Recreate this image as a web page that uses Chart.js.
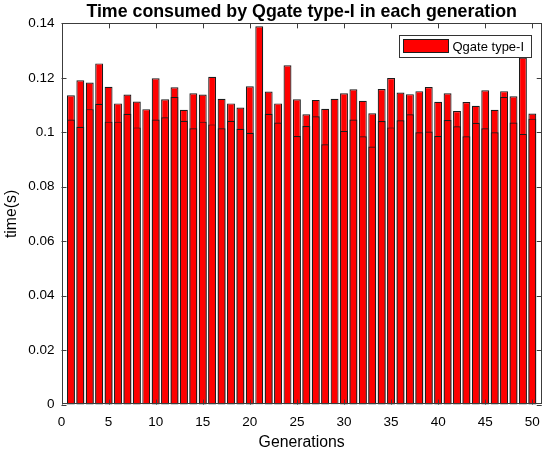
<!DOCTYPE html>
<html>
<head>
<meta charset="utf-8">
<script src="https://cdn.jsdelivr.net/npm/chart.js@4.4.1/dist/chart.umd.min.js"></script>
<style>
    html, body { margin: 0; padding: 0; background: #fff; }
    #wrap { width: 550px; height: 454px; }
</style>
</head>
<body>
<div id="wrap"><canvas id="myChart"></canvas></div>
<script>
let generations = [1, 2, 3, 4, 5, 6, 7, 8, 9, 10, 11, 12, 13, 14, 15, 16, 17, 18, 19, 20,
    21, 22, 23, 24, 25, 26, 27, 28, 29, 30, 31, 32, 33, 34, 35, 36, 37, 38, 39, 40,
    41, 42, 43, 44, 45, 46, 47, 48, 49, 50];

// full bar heights (s)
let timeUpper = [0.1136, 0.1191, 0.1183, 0.1253, 0.1167, 0.1106, 0.1139, 0.1113, 0.1085, 0.1198,
    0.1121, 0.1165, 0.1083, 0.1143, 0.1139, 0.1204, 0.1123, 0.1106, 0.1091, 0.1169,
    0.1389, 0.1150, 0.1106, 0.1246, 0.1121, 0.1066, 0.1119, 0.1086, 0.1123, 0.1143,
    0.1158, 0.1116, 0.1070, 0.1159, 0.1199, 0.1146, 0.1140, 0.1151, 0.1166, 0.1112,
    0.1143, 0.1078, 0.1111, 0.1097, 0.1154, 0.1083, 0.1151, 0.1132, 0.1274, 0.1069];

// the second (overlaid) bars, seen as the black line inside each bar; null where hidden
let timeLower = [0.1047, 0.1020, 0.1085, 0.1105, 0.1039, 0.1039, 0.1068, 0.1018, null, 0.1047,
    0.1055, 0.1130, 0.1042, 0.1015, 0.1039, 0.1029, 0.1015, 0.1042, 0.1013, 0.0998,
    null, 0.1068, 0.1036, null, 0.0986, 0.1023, 0.1059, 0.0956, null, 0.1005,
    0.1047, 0.0985, 0.0948, 0.1041, 0.1018, 0.1044, 0.1066, 0.1000, 0.1003, 0.0986,
    0.1045, 0.1022, 0.0985, 0.1035, 0.1015, 0.1000, 0.1130, 0.1036, 0.0994, 0.1050];

let xTicks = [0, 5, 10, 15, 20, 25, 30, 35, 40, 45, 50];
let yTicks = [0, 0.02, 0.04, 0.06, 0.08, 0.1, 0.12, 0.14];
let yTickLabels = ['0', '0.02', '0.04', '0.06', '0.08', '0.1', '0.12', '0.14'];

let fontFamily = '"Liberation Sans", Arial, Helvetica, sans-serif';
let axisColor = '#3c3c3c';
let barEdge = '#1c1c1c';

function toPoints(values) {
    return generations.map((g, i) => ({x: g, y: values[i]}));
}

// MATLAB style box, inward ticks on all four sides, legend inside the axes
let matlabAxes = {
    id: 'matlabAxes',
    afterDatasetsDraw(chart) {
        let ctx = chart.ctx;
        let a = chart.chartArea;
        let x = chart.scales.x;
        let y = chart.scales.y;
        ctx.save();
        ctx.strokeStyle = axisColor;
        ctx.lineWidth = 1;
        ctx.beginPath();
        xTicks.forEach((v) => {
            let px = Math.round(x.getPixelForValue(v)) + 0.5;
            ctx.moveTo(px, a.bottom); ctx.lineTo(px, a.bottom - 5);
            ctx.moveTo(px, a.top); ctx.lineTo(px, a.top + 5);
        });
        yTicks.forEach((v) => {
            let py = Math.round(y.getPixelForValue(v)) + 0.5;
            ctx.moveTo(a.left, py); ctx.lineTo(a.left + 5, py);
            ctx.moveTo(a.right, py); ctx.lineTo(a.right - 5, py);
        });
        ctx.stroke();
        ctx.strokeRect(Math.round(a.left) + 0.5, Math.round(a.top) + 0.5,
            Math.round(a.right - a.left) - 1, Math.round(a.bottom - a.top) - 1);

        // legend
        let ds = chart.data.datasets[1];
        let bw = 132, bh = 22;
        let bx = Math.round(a.right - 11 - bw) + 0.5;
        let by = Math.round(a.top + 12) + 0.5;
        ctx.fillStyle = '#fff';
        ctx.fillRect(bx, by, bw, bh);
        ctx.strokeStyle = '#333';
        ctx.strokeRect(bx, by, bw, bh);
        ctx.fillStyle = ds.backgroundColor;
        ctx.fillRect(bx + 4, by + 4, 45, 13);
        ctx.strokeStyle = barEdge;
        ctx.strokeRect(bx + 4, by + 4, 45, 13);
        ctx.fillStyle = '#000';
        ctx.font = '13px ' + fontFamily;
        ctx.textBaseline = 'middle';
        ctx.textAlign = 'left';
        ctx.fillText(ds.label, bx + 53, by + bh / 2 + 0.5);
        ctx.restore();
    }
};

let barStyle = {
    backgroundColor: '#ff0000',
    borderColor: barEdge,
    borderWidth: 1.2,
    borderSkipped: false,
    inflateAmount: 0,
    grouped: false,
    barPercentage: 0.84,
    categoryPercentage: 1
};

let ctx = document.getElementById('myChart').getContext('2d');

let myBarChart = new Chart(ctx, {
    type: 'bar',
    data: {
        datasets: [
            Object.assign({label: 'Qgate type-I (inner)', data: toPoints(timeLower)}, barStyle),
            Object.assign({label: 'Qgate type-I', data: toPoints(timeUpper)}, barStyle)
        ]
    },
    options: {
        responsive: true,
        maintainAspectRatio: false,
        animation: false,
        devicePixelRatio: 1,
        layout: {padding: {left: 0, right: 5, top: 0, bottom: 0}},
        plugins: {
            legend: {display: false},
            tooltip: {enabled: false},
            title: {
                display: true,
                fullSize: false,
                text: 'Time consumed by Qgate type-I in each generation',
                color: '#000',
                font: {family: fontFamily, size: 17.8, weight: 'bold'},
                padding: {top: 1, bottom: 1}
            }
        },
        scales: {
            x: {
                type: 'linear',
                offset: false,
                min: 0,
                max: 51,
                grid: {display: false, drawTicks: false},
                border: {display: false},
                afterBuildTicks: (s) => { s.ticks = xTicks.map((v) => ({value: v})); },
                afterFit: (s) => { s.height = 49.4; },
                ticks: {
                    color: '#000',
                    padding: 10,
                    maxRotation: 0,
                    autoSkip: false,
                    font: {family: fontFamily, size: 13.5},
                    callback: (v) => String(v)
                },
                title: {
                    display: true,
                    text: 'Generations',
                    color: '#000',
                    font: {family: fontFamily, size: 15.8},
                    padding: {top: 0, bottom: 2.2}
                }
            },
            y: {
                type: 'linear',
                min: 0,
                max: 0.14,
                grid: {display: false, drawTicks: false},
                border: {display: false},
                afterBuildTicks: (s) => { s.ticks = yTicks.map((v) => ({value: v})); },
                afterFit: (s) => { s.width = 61.5; },
                ticks: {
                    color: '#000',
                    padding: 7,
                    autoSkip: false,
                    font: {family: fontFamily, size: 13.5},
                    callback: (v, i) => yTickLabels[i]
                },
                title: {
                    display: true,
                    text: 'time(s)',
                    color: '#000',
                    font: {family: fontFamily, size: 15.8},
                    padding: {top: 2.4, bottom: 0}
                }
            }
        }
    },
    plugins: [matlabAxes]
});
</script>
</body>
</html>
